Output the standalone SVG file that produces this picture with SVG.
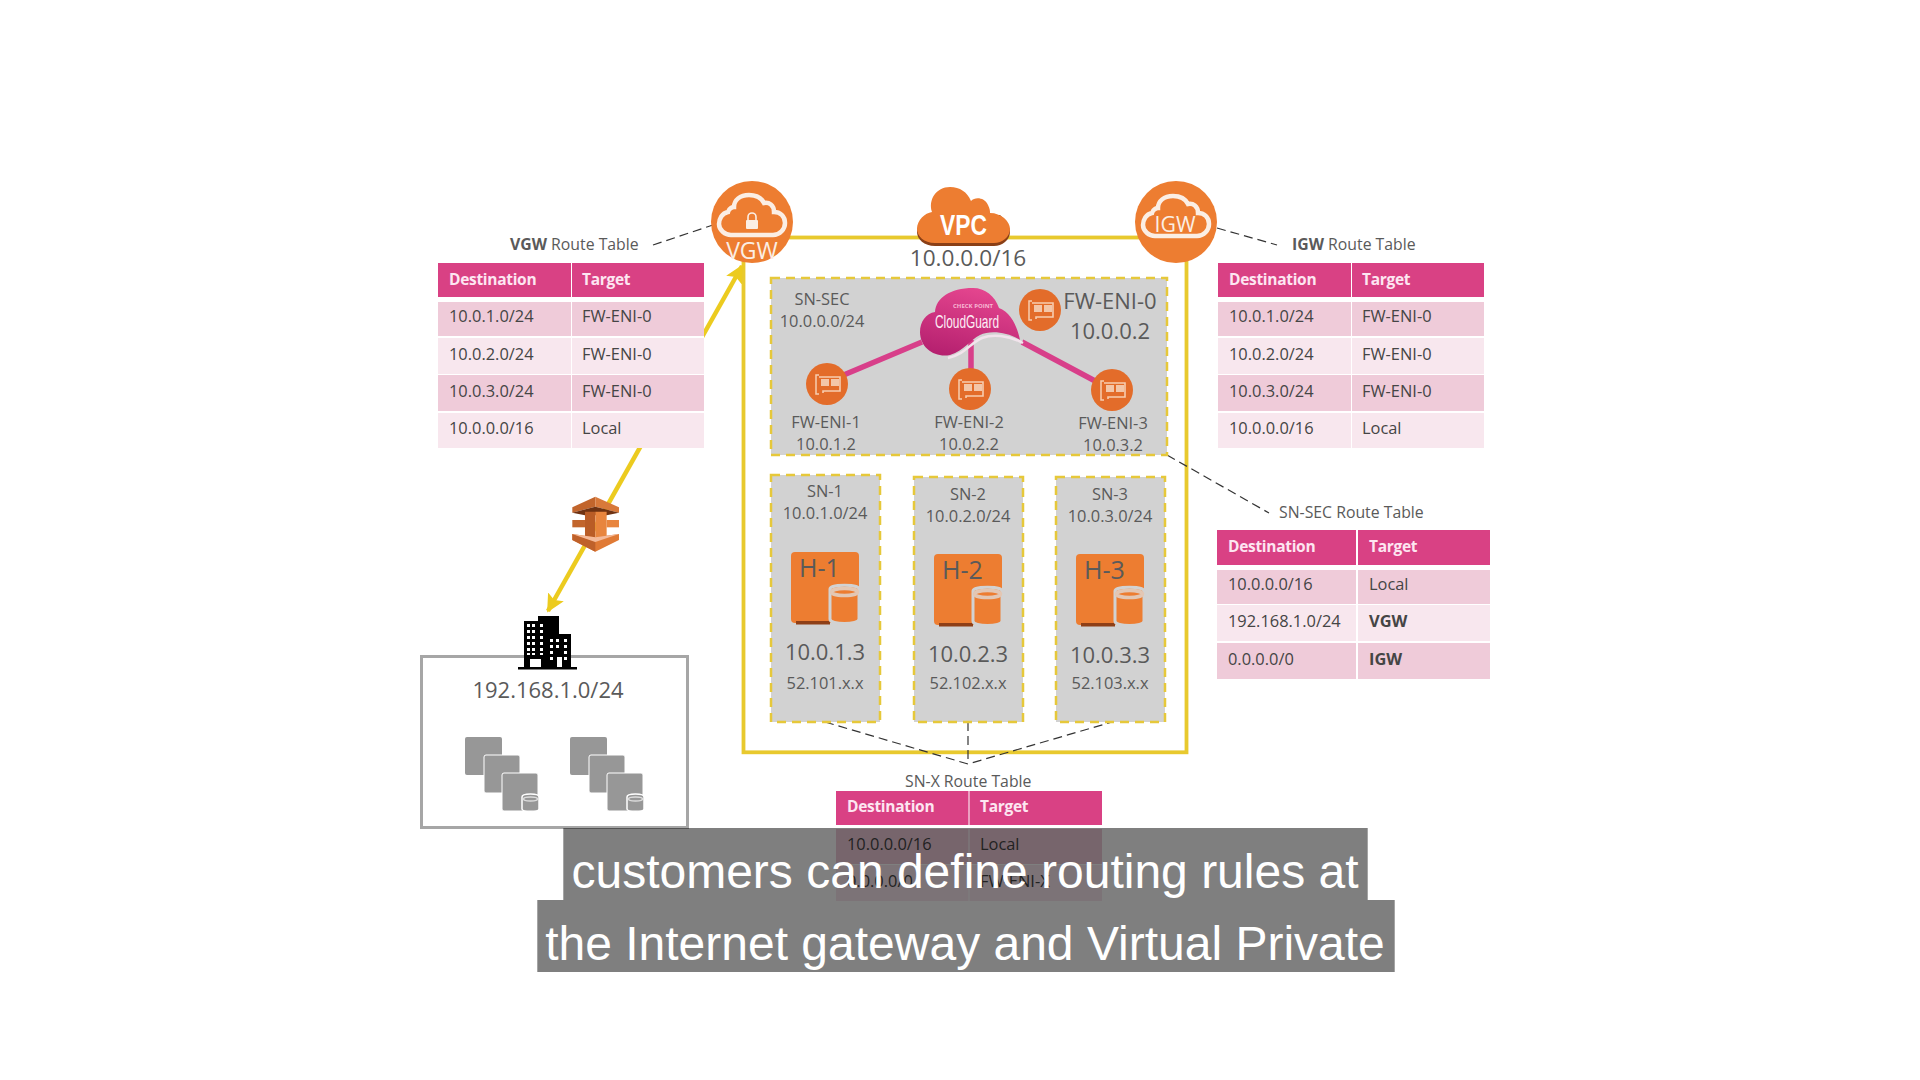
<svg xmlns="http://www.w3.org/2000/svg" width="1920" height="1080" viewBox="0 0 1920 1080">
<style>
text{font-family:"Open Sans","Noto Sans",sans-serif;fill:#5a5a5a}
.m{text-anchor:middle}
.s{font-size:16.4px}
.rt{font-size:15.8px}
.l{font-size:22px}
.td{font-size:16.4px;fill:#454545}
.tb{font-size:16.4px;fill:#454545;font-weight:700}
.th{font-size:15.5px;letter-spacing:-.3px;fill:#fde6f1;font-weight:700}
.hd{fill:#d94184}
.r1{fill:#efcbd9}
.r2{fill:#f8e7ee}
.bk{fill:#fff}
.sn{fill:#d2d2d2;stroke:#e6c83a;stroke-width:2.5;stroke-dasharray:9 6}
.dash{fill:none;stroke:#333;stroke-width:1.2;stroke-dasharray:9 5}
.orange{fill:#ed7d31}
.cap{font-family:"Liberation Sans",Arial,sans-serif;font-size:48px;fill:#fff}
.host{font-size:25px}
</style>
<defs>
<marker id="ah" viewBox="0 0 10 10" refX="9" refY="5" markerWidth="4" markerHeight="4" orient="auto-start-reverse" markerUnits="strokeWidth"><path d="M0 0L10 5L0 10L2 5Z" fill="#eccb1f"/></marker>
<path id="cloud" d="M-21 20H21C28 20 33 14 33 8C33 1 28-3 22-3C22-10 17-13 12-12C9-18 3-20-3-20C-12-20-18-15-18-8C-19-8-23-7-24-3C-30-2-33 4-33 9C-33 15-27 20-21 20Z" fill="none" stroke="#fbeee4" stroke-width="4.5"/>
<g id="eni">
<circle r="21" fill="#e36c2a"/>
<path d="M-8-9H-11V10H-8" fill="none" stroke="#f7cdb0" stroke-width="1.5"/>
<path d="M-8-7H13V7H-4V9" fill="none" stroke="#f7cdb0" stroke-width="1.6"/>
<rect x="-6" y="-5" width="8" height="7" fill="#f3c6a8"/><rect x="4" y="-5" width="8" height="7" fill="#f3c6a8"/>
</g>
<g id="hostIcon">
<rect width="68" height="71" rx="4" fill="#ed7d31"/>
<rect x="5" y="69" width="34" height="3.5" fill="#8e3f17"/>
<path d="M39 37C39 32 68 32 68 37V67C68 73 39 73 39 67Z" fill="#ed7d31" stroke="#d2d2d2" stroke-width="3"/>
<ellipse cx="53.5" cy="40" rx="13" ry="3.5" fill="#ed7d31" stroke="#e3c7b4" stroke-width="3.5"/>
</g>
<g id="stack">
<rect x="0" y="0" width="37" height="38" rx="2" fill="#979797"/>
<rect x="19" y="18" width="36" height="38" rx="2" fill="#979797" stroke="#fff" stroke-width="1"/>
<rect x="37" y="36" width="36" height="38" rx="2" fill="#979797" stroke="#fff" stroke-width="1"/>
<path d="M57 60C57 56 74 56 74 60V72C74 75 57 75 57 72Z" fill="#979797" stroke="#fff" stroke-width="1.5"/>
<ellipse cx="65.5" cy="62" rx="7" ry="2" fill="#979797" stroke="#dcdcdc" stroke-width="1.5"/>
</g>
<linearGradient id="cg" x1="0.25" y1="1" x2="0.6" y2="0"><stop offset="0" stop-color="#b5206f"/><stop offset="1" stop-color="#e5468f"/></linearGradient>
</defs>
<rect width="1920" height="1080" fill="#fff"/>

<g id="connectors">
<rect x="743.500" y="237.500" width="443" height="514.800" fill="none" stroke="#e8c92e" stroke-width="3.800"/>
<line x1="742" y1="266" x2="548" y2="611" stroke="#eccb1f" stroke-width="4.5" marker-start="url(#ah)" marker-end="url(#ah)"/>
<path class="dash" d="M653 245L713 225"/>
<path class="dash" d="M1217 228L1277 245"/>
<path class="dash" d="M1167 455L1269 513"/>
<path class="dash" d="M825 722L968 764L1112 722M968 722V764"/>
</g>

<g id="vpc">
<path d="M935 246C924 246 917 239 917 232C917 223 925 216 932 215H1000C1005 220 1010 226 1010 232C1010 240 1002 246 994 246Z" fill="#8a3f16"/>
<path d="M935 243C924 243 917 236 917 229C917 220 925 213 932 212C928 200 936 187 950 187C960 187 967 192 971 201C975 197 984 197 988 205C990 209 990 211 990 213C1001 213 1010 221 1010 229C1010 237 1002 243 994 243Z" fill="#ed7d31"/>
<text x="963.5" y="235" class="m" font-size="29" font-weight="700" textLength="47" lengthAdjust="spacingAndGlyphs" style="fill:#fff;font-family:'Liberation Sans',sans-serif">VPC</text>
<text x="968" y="266" class="m" font-size="22.6">10.0.0.0/16</text>
</g>

<g id="vgw">
<circle cx="752" cy="222" r="41" class="orange"/>
<use href="#cloud" x="752" y="215"/>
<rect x="746" y="220" width="12" height="9" rx="1" fill="#fbeee4"/>
<path d="M748 220V217A4 4 0 0 1 756 217V220" fill="none" stroke="#fbeee4" stroke-width="1.6"/>
<text x="752" y="259" class="m" font-size="23" style="fill:#fbeee4">VGW</text>
</g>

<g id="igw">
<circle cx="1176" cy="222" r="41" class="orange"/>
<use href="#cloud" x="1176" y="216"/>
<text x="1175" y="232" class="m" font-size="21" textLength="41" lengthAdjust="spacingAndGlyphs" style="fill:#fbeee4">IGW</text>
</g>

<g id="sn-sec">
<rect x="771" y="278" width="396" height="177" class="sn"/>
<text x="822" y="305" class="m s">SN-SEC</text>
<text x="822" y="327" class="m s">10.0.0.0/24</text>
<text x="1110" y="309" class="m l">FW-ENI-0</text>
<text x="1110" y="339" class="m l">10.0.0.2</text>
</g>

<g id="cloudguard-links">
<path d="M922 342L827 382M971 340V389M1022 342L1112 390" stroke="#d83f8a" stroke-width="5.5" fill="none"/>
</g>
<g id="cloudguard">
<path d="M950 355C935 358 920 348 920 332C920 322 926 313 935 312C936 298 950 288 973 288C985 288 995 296 999 308C1010 312 1017 325 1020 340C1008 332 990 330 980 335C970 340 965 350 950 355Z" fill="url(#cg)"/>
<path d="M948 358C966 354 970 343 982 338C992 334 1008 335 1023 343" fill="none" stroke="#f2e4ec" stroke-width="2.5"/>
<text x="973" y="308" class="m" font-size="6" font-weight="700" style="fill:#f7b8d4">CHECK POINT</text>
<text x="967" y="328" class="m" font-size="19" textLength="64" lengthAdjust="spacingAndGlyphs" style="fill:#fdeef5;font-family:'Liberation Sans',sans-serif">CloudGuard</text>
</g>

<use id="fw-eni-0" href="#eni" x="1040" y="310"/>
<g id="fw-eni-1"><use href="#eni" x="827" y="384"/><text x="826" y="428" class="m s">FW-ENI-1</text><text x="826" y="450" class="m s">10.0.1.2</text></g>
<g id="fw-eni-2"><use href="#eni" x="970" y="389"/><text x="969" y="428" class="m s">FW-ENI-2</text><text x="969" y="450" class="m s">10.0.2.2</text></g>
<g id="fw-eni-3"><use href="#eni" x="1112" y="390"/><text x="1113" y="429" class="m s">FW-ENI-3</text><text x="1113" y="451" class="m s">10.0.3.2</text></g>

<g id="sn-1">
<rect x="771" y="475" width="109" height="247" class="sn"/>
<text x="825" y="497" class="m s">SN-1</text><text x="825" y="519" class="m s">10.0.1.0/24</text>
<use href="#hostIcon" x="791" y="552"/>
<text x="799" y="577" class="host">H-1</text>
<text x="825" y="660" class="m l">10.0.1.3</text><text x="825" y="689" class="m s">52.101.x.x</text>
</g>
<g id="sn-2">
<rect x="914" y="477" width="109" height="245" class="sn"/>
<text x="968" y="500" class="m s">SN-2</text><text x="968" y="522" class="m s">10.0.2.0/24</text>
<use href="#hostIcon" x="934" y="554"/>
<text x="942" y="579" class="host">H-2</text>
<text x="968" y="662" class="m l">10.0.2.3</text><text x="968" y="689" class="m s">52.102.x.x</text>
</g>
<g id="sn-3">
<rect x="1056" y="477" width="109" height="245" class="sn"/>
<text x="1110" y="500" class="m s">SN-3</text><text x="1110" y="522" class="m s">10.0.3.0/24</text>
<use href="#hostIcon" x="1076" y="554"/>
<text x="1084" y="579" class="host">H-3</text>
<text x="1110" y="663" class="m l">10.0.3.3</text><text x="1110" y="689" class="m s">52.103.x.x</text>
</g>

<g id="vgw-route-table">
<text x="510" y="250" class="rt"><tspan font-weight="700">VGW</tspan> Route Table</text>
<rect x="438" y="263" width="266" height="185" class="bk"/>
<rect x="438" y="263" width="133" height="34" class="hd"/><rect x="572" y="263" width="132" height="34" class="hd"/>
<rect x="438" y="302" width="133" height="34" class="r1"/><rect x="572" y="302" width="132" height="34" class="r1"/>
<rect x="438" y="338" width="133" height="36" class="r2"/><rect x="572" y="338" width="132" height="36" class="r2"/>
<rect x="438" y="375" width="133" height="36" class="r1"/><rect x="572" y="375" width="132" height="36" class="r1"/>
<rect x="438" y="413" width="133" height="35" class="r2"/><rect x="572" y="413" width="132" height="35" class="r2"/>
<text x="449" y="285" class="th">Destination</text><text x="582" y="285" class="th">Target</text>
<text x="449" y="322" class="td">10.0.1.0/24</text><text x="582" y="322" class="td">FW-ENI-0</text>
<text x="449" y="360" class="td">10.0.2.0/24</text><text x="582" y="360" class="td">FW-ENI-0</text>
<text x="449" y="397" class="td">10.0.3.0/24</text><text x="582" y="397" class="td">FW-ENI-0</text>
<text x="449" y="434" class="td">10.0.0.0/16</text><text x="582" y="434" class="td">Local</text>
</g>

<g id="igw-route-table">
<text x="1292" y="250" class="rt"><tspan font-weight="700">IGW</tspan> Route Table</text>
<rect x="1218" y="263" width="133" height="34" class="hd"/><rect x="1352" y="263" width="132" height="34" class="hd"/>
<rect x="1218" y="302" width="133" height="34" class="r1"/><rect x="1352" y="302" width="132" height="34" class="r1"/>
<rect x="1218" y="338" width="133" height="36" class="r2"/><rect x="1352" y="338" width="132" height="36" class="r2"/>
<rect x="1218" y="375" width="133" height="36" class="r1"/><rect x="1352" y="375" width="132" height="36" class="r1"/>
<rect x="1218" y="413" width="133" height="35" class="r2"/><rect x="1352" y="413" width="132" height="35" class="r2"/>
<text x="1229" y="285" class="th">Destination</text><text x="1362" y="285" class="th">Target</text>
<text x="1229" y="322" class="td">10.0.1.0/24</text><text x="1362" y="322" class="td">FW-ENI-0</text>
<text x="1229" y="360" class="td">10.0.2.0/24</text><text x="1362" y="360" class="td">FW-ENI-0</text>
<text x="1229" y="397" class="td">10.0.3.0/24</text><text x="1362" y="397" class="td">FW-ENI-0</text>
<text x="1229" y="434" class="td">10.0.0.0/16</text><text x="1362" y="434" class="td">Local</text>
</g>

<g id="sn-sec-route-table">
<text x="1279" y="518" class="rt">SN-SEC Route Table</text>
<rect x="1217" y="530" width="139" height="35" class="hd"/><rect x="1358" y="530" width="132" height="35" class="hd"/>
<rect x="1217" y="570" width="139" height="34" class="r1"/><rect x="1358" y="570" width="132" height="34" class="r1"/>
<rect x="1217" y="605" width="139" height="36" class="r2"/><rect x="1358" y="605" width="132" height="36" class="r2"/>
<rect x="1217" y="643" width="139" height="36" class="r1"/><rect x="1358" y="643" width="132" height="36" class="r1"/>
<text x="1228" y="552" class="th">Destination</text><text x="1369" y="552" class="th">Target</text>
<text x="1228" y="590" class="td">10.0.0.0/16</text><text x="1369" y="590" class="td">Local</text>
<text x="1228" y="627" class="td">192.168.1.0/24</text><text x="1369" y="627" class="tb">VGW</text>
<text x="1228" y="665" class="td">0.0.0.0/0</text><text x="1369" y="665" class="tb">IGW</text>
</g>

<g id="sn-x-route-table">
<text x="905" y="787" class="rt">SN-X Route Table</text>
<rect x="836" y="791" width="132.500" height="34" class="hd"/><rect x="969.500" y="791" width="132.500" height="34" class="hd"/>
<rect x="836" y="829" width="132.500" height="35" class="r1"/><rect x="969.500" y="829" width="132.500" height="35" class="r1"/>
<rect x="836" y="865" width="132.500" height="36" class="r2"/><rect x="969.500" y="865" width="132.500" height="36" class="r2"/>
<text x="847" y="812" class="th">Destination</text><text x="980" y="812" class="th">Target</text>
<text x="847" y="850" class="td">10.0.0.0/16</text><text x="980" y="850" class="td">Local</text>
<text x="847" y="887" class="td">0.0.0.0/0</text><text x="980" y="887" class="td">FW-ENI-X</text>
</g>

<g id="direct-connect" transform="translate(410 450) scale(.3333)">
<path d="M556 140L487 172V188L556 170Z" fill="#c2652c"/>
<path d="M556 140L627 172V188L556 170Z" fill="#d8793a"/>
<path d="M487 188L556 170L627 188L590 196H525Z" fill="#6f3212"/>
<path d="M525 185H556V290L525 285Z" fill="#b95c26"/>
<path d="M556 185H590V285L556 290Z" fill="#e8853e"/>
<rect x="487" y="210" width="38" height="22" fill="#c2652c"/>
<rect x="590" y="210" width="37" height="22" fill="#e8853e"/>
<path d="M487 252L556 262L627 252V270L556 305L487 270Z" fill="#e07a35"/>
<path d="M487 252L556 275V305L487 270Z" fill="#bf612a"/>
<path d="M487 252L556 262L627 252L556 276Z" fill="#f4b998"/>
</g>

<g id="on-prem">
<rect x="421.500" y="656.500" width="266" height="171" fill="#fff" stroke="#a6a6a6" stroke-width="3"/>
<g id="building">
<rect x="524" y="621" width="16" height="47" fill="#000"/><rect x="538" y="616" width="21" height="52" fill="#000"/><rect x="549" y="634" width="22" height="34" fill="#000"/><rect x="518" y="667" width="59" height="2.5" fill="#000"/>
<path d="M527 624h3v3h-3zM532 624h3v3h-3zM540 624h3v3h-3zM527 630h3v3h-3zM532 630h3v3h-3zM540 630h3v3h-3zM527 636h3v3h-3zM532 636h3v3h-3zM540 636h3v3h-3zM527 642h3v3h-3zM532 642h3v3h-3zM540 642h3v3h-3zM527 648h3v3h-3zM532 648h3v3h-3zM540 648h3v3h-3zM527 653h3v2h-3zM532 653h3v2h-3zM540 653h3v2h-3zM550 639h3v3h-3zM556 639h3v3h-3zM564 639h3v3h-3zM550 645h3v3h-3zM556 645h3v3h-3zM564 645h3v3h-3zM550 651h3v3h-3zM564 651h3v3h-3zM550 657h3v3h-3zM564 657h3v3h-3zM530 659h11v8h-11zM557 657h5v10h-5z" fill="#fff"/>
</g>
<text x="548" y="698" class="m l">192.168.1.0/24</text>
<use href="#stack" x="465" y="737"/>
<use href="#stack" x="570" y="737"/>
</g>

<g id="caption">
<rect x="563.300" y="828" width="804.400" height="72" fill="#000" fill-opacity=".5"/>
<rect x="537.300" y="900" width="857.400" height="72" fill="#000" fill-opacity=".5"/>
<text x="965" y="888" class="m cap">customers can define routing rules at</text>
<text x="965" y="960" class="m cap">the Internet gateway and Virtual Private</text>
</g>
</svg>
